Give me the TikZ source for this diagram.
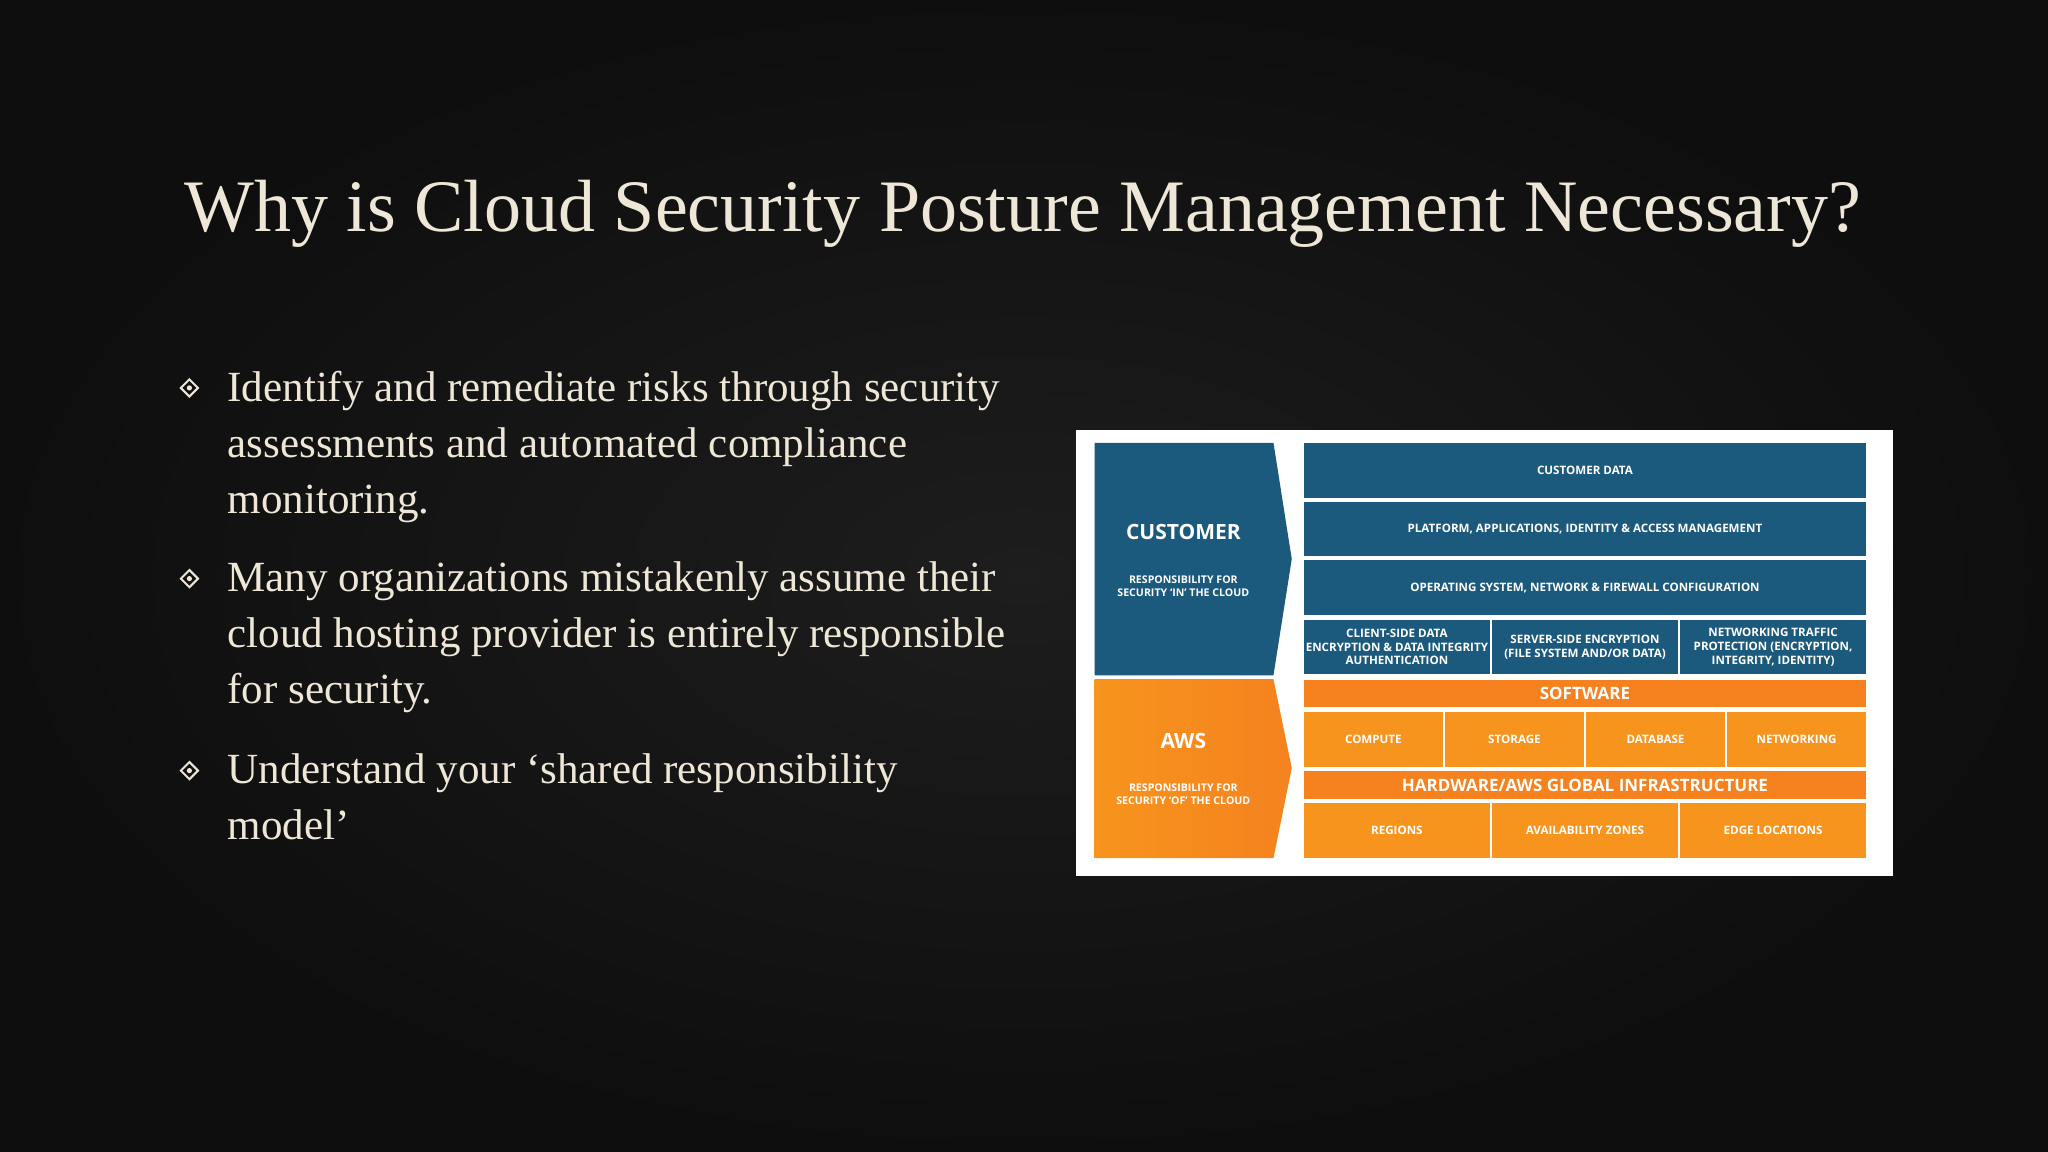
\documentclass[tikz,border=0pt]{standalone}
\usepackage{fontspec}
\setmainfont{Liberation Serif}
\setsansfont{Open Sans}
\definecolor{bg}{HTML}{1E1E1E}
\definecolor{cream}{HTML}{EEE7D7}
\definecolor{awsblue}{HTML}{1C5A7D}
\definecolor{orA}{HTML}{F7941D}
\definecolor{orB}{HTML}{F5821F}
\usetikzlibrary{shapes.geometric}
\tikzset{
 blk/.style={draw=white,line width=1.2pt,text=white,font=\sffamily\bfseries\fontsize{5.8}{6.8}\selectfont,align=center},
 bl/.style={blk,fill=awsblue},
 oa/.style={blk,fill=orA},
 ob/.style={blk,fill=orB,font=\sffamily\bfseries\fontsize{8.5}{10}\selectfont},
 bullet/.style={text=cream,font=\fontsize{21.5}{28}\selectfont,anchor=north west,align=left,inner sep=0pt},
 dia/.style={draw=cream,line width=1pt,diamond,minimum size=9pt,inner sep=0pt,
   path picture={\fill[cream] (path picture bounding box.center) circle (1.3pt);}}
}
\begin{document}
\begin{tikzpicture}[x=0.6531pt,y=-0.6531pt]
\useasboundingbox (0,0) rectangle (1568,882);
\fill[bg] (0,0) rectangle (1568,882);
\shade[inner color=bg,outer color=black,opacity=0.5] (0,0) rectangle (1568,882);
\node[text=cream,font=\fontsize{37}{44}\selectfont] (title) at (783,164) {Why is Cloud Security Posture Management Necessary?};
% bullets
\node[dia] (d1) at (145,297) {};
\node[bullet] (b1) at (174,284) {Identify and remediate risks through security\\assessments and automated compliance\\monitoring.};
\node[dia] (d2) at (145,443) {};
\node[bullet] (b2) at (174,430) {Many organizations mistakenly assume their\\cloud hosting provider is entirely responsible\\for security.};
\node[dia] (d3) at (145,590) {};
\node[bullet] (b3) at (174,577) {Understand your `shared responsibility\\model'};
% diagram
\fill[white] (824,329) rectangle (1449,671);
\fill[awsblue] (838,339) -- (975,339) -- (989,428) -- (975,517) -- (838,517) -- cycle;
\shade[left color=orA,right color=orB] (838,520) -- (975,520) -- (989,588) -- (975,657) -- (838,657) -- cycle;
\node[text=white,font=\sffamily\bfseries\fontsize{10.5}{12}\selectfont] (cust) at (906,407) {CUSTOMER};
\node[text=white,font=\sffamily\bfseries\fontsize{5.3}{6.6}\selectfont,align=center] (custr) at (906,449) {RESPONSIBILITY FOR\\SECURITY `IN' THE CLOUD};
\node[text=white,font=\sffamily\bfseries\fontsize{10.5}{12}\selectfont] (aws) at (906,567) {AWS};
\node[text=white,font=\sffamily\bfseries\fontsize{5.3}{6.6}\selectfont,align=center] (awsr) at (906,608) {RESPONSIBILITY FOR\\SECURITY `OF' THE CLOUD};
\node[bl,minimum width=282pt,minimum height=28.5pt] (cd) at (1213.5,360) {CUSTOMER DATA};
\node[bl,minimum width=282pt,minimum height=28.5pt] (pl) at (1213.5,405) {PLATFORM, APPLICATIONS, IDENTITY \& ACCESS MANAGEMENT};
\node[bl,minimum width=282pt,minimum height=28.5pt] (os) at (1213.5,450) {OPERATING SYSTEM, NETWORK \& FIREWALL CONFIGURATION};
\node[bl,minimum width=94pt,minimum height=28.5pt,inner sep=1pt] (c1) at (1069.5,495.5) {CLIENT-SIDE DATA\\ENCRYPTION \& DATA INTEGRITY\\AUTHENTICATION};
\node[bl,minimum width=94pt,minimum height=28.5pt,inner sep=1pt] (c2) at (1213.5,495.5) {SERVER-SIDE ENCRYPTION\\(FILE SYSTEM AND/OR DATA)};
\node[bl,minimum width=94pt,minimum height=28.5pt,inner sep=1pt] (c3) at (1357.5,495.5) {NETWORKING TRAFFIC\\PROTECTION (ENCRYPTION,\\INTEGRITY, IDENTITY)};
\node[ob,minimum width=282pt,minimum height=15pt] (sw) at (1213.5,531) {SOFTWARE};
\node[oa,minimum width=70.5pt,minimum height=28.5pt] (o1) at (1051.5,566) {COMPUTE};
\node[oa,minimum width=70.5pt,minimum height=28.5pt] (o2) at (1159.5,566) {STORAGE};
\node[oa,minimum width=70.5pt,minimum height=28.5pt] (o3) at (1267.5,566) {DATABASE};
\node[oa,minimum width=70.5pt,minimum height=28.5pt] (o4) at (1375.5,566) {NETWORKING};
\node[ob,minimum width=282pt,minimum height=15pt] (hw) at (1213.5,601) {HARDWARE/AWS GLOBAL INFRASTRUCTURE};
\node[oa,minimum width=94pt,minimum height=28.5pt] (r1) at (1069.5,636) {REGIONS};
\node[oa,minimum width=94pt,minimum height=28.5pt] (r2) at (1213.5,636) {AVAILABILITY ZONES};
\node[oa,minimum width=94pt,minimum height=28.5pt] (r3) at (1357.5,636) {EDGE LOCATIONS};
\end{tikzpicture}
\end{document}
